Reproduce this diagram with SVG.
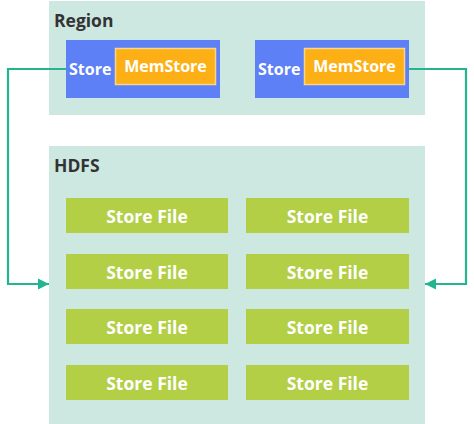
<svg xmlns="http://www.w3.org/2000/svg" width="474" height="424" viewBox="0 0 474 424">
<defs>
<style>
.panel{fill:#cde8e1}
.title{font-family:"Open Sans","Noto Sans",sans-serif;font-weight:bold;font-size:17.5px;fill:#333}
.store{fill:#5d80f6}
.mem{fill:#fdb015;stroke:#f7d68a;stroke-width:1.5}
.wt{font-family:"Open Sans","Noto Sans",sans-serif;font-weight:bold;fill:#fff}
.sf{fill:#b2cf46}
.conn{fill:none;stroke:#22b590;stroke-width:2.2}
</style>
<marker id="arr" markerWidth="12" markerHeight="12" refX="11" refY="6" orient="auto" markerUnits="userSpaceOnUse">
<path d="M0,0.5 L11,6 L0,11.5 Z" fill="#22b590"/>
</marker>
</defs>
<rect width="474" height="424" fill="#fff"/>
<g id="region">
<rect class="panel" x="49" y="1" width="376" height="114"/>
<text class="title" x="54" y="27">Region</text>
</g>
<g id="store1">
<rect class="store" x="66" y="40" width="154" height="58"/>
<text class="wt" x="69" y="75" font-size="16">Store</text>
</g>
<g id="memstore1">
<rect class="mem" x="115.5" y="48.5" width="100" height="36"/>
<text class="wt" x="165.5" y="72" font-size="16" text-anchor="middle">MemStore</text>
</g>
<g id="store2">
<rect class="store" x="255" y="40" width="154" height="58"/>
<text class="wt" x="258" y="75" font-size="16">Store</text>
</g>
<g id="memstore2">
<rect class="mem" x="304.5" y="48.5" width="100" height="36"/>
<text class="wt" x="354.5" y="72" font-size="16" text-anchor="middle">MemStore</text>
</g>
<g id="hdfs">
<rect class="panel" x="49" y="146" width="376" height="278"/>
<text class="title" x="54" y="172">HDFS</text>
</g>
<g id="sf1"><rect class="sf" x="66" y="198" width="162" height="35"/><text class="wt" x="147" y="223" font-size="17.5" text-anchor="middle">Store File</text></g>
<g id="sf2"><rect class="sf" x="246" y="198" width="163" height="35"/><text class="wt" x="327.5" y="223" font-size="17.5" text-anchor="middle">Store File</text></g>
<g id="sf3"><rect class="sf" x="66" y="254" width="162" height="35"/><text class="wt" x="147" y="279" font-size="17.5" text-anchor="middle">Store File</text></g>
<g id="sf4"><rect class="sf" x="246" y="254" width="163" height="35"/><text class="wt" x="327.5" y="279" font-size="17.5" text-anchor="middle">Store File</text></g>
<g id="sf5"><rect class="sf" x="66" y="309" width="162" height="35"/><text class="wt" x="147" y="334" font-size="17.5" text-anchor="middle">Store File</text></g>
<g id="sf6"><rect class="sf" x="246" y="309" width="163" height="35"/><text class="wt" x="327.5" y="334" font-size="17.5" text-anchor="middle">Store File</text></g>
<g id="sf7"><rect class="sf" x="66" y="365" width="162" height="35"/><text class="wt" x="147" y="390" font-size="17.5" text-anchor="middle">Store File</text></g>
<g id="sf8"><rect class="sf" x="246" y="365" width="163" height="35"/><text class="wt" x="327.5" y="390" font-size="17.5" text-anchor="middle">Store File</text></g>
<g id="connectors">
<path class="conn" d="M66,69 H8 V284 H49" marker-end="url(#arr)"/>
<path class="conn" d="M409,69 H466 V284 H425" marker-end="url(#arr)"/>
</g>
</svg>
